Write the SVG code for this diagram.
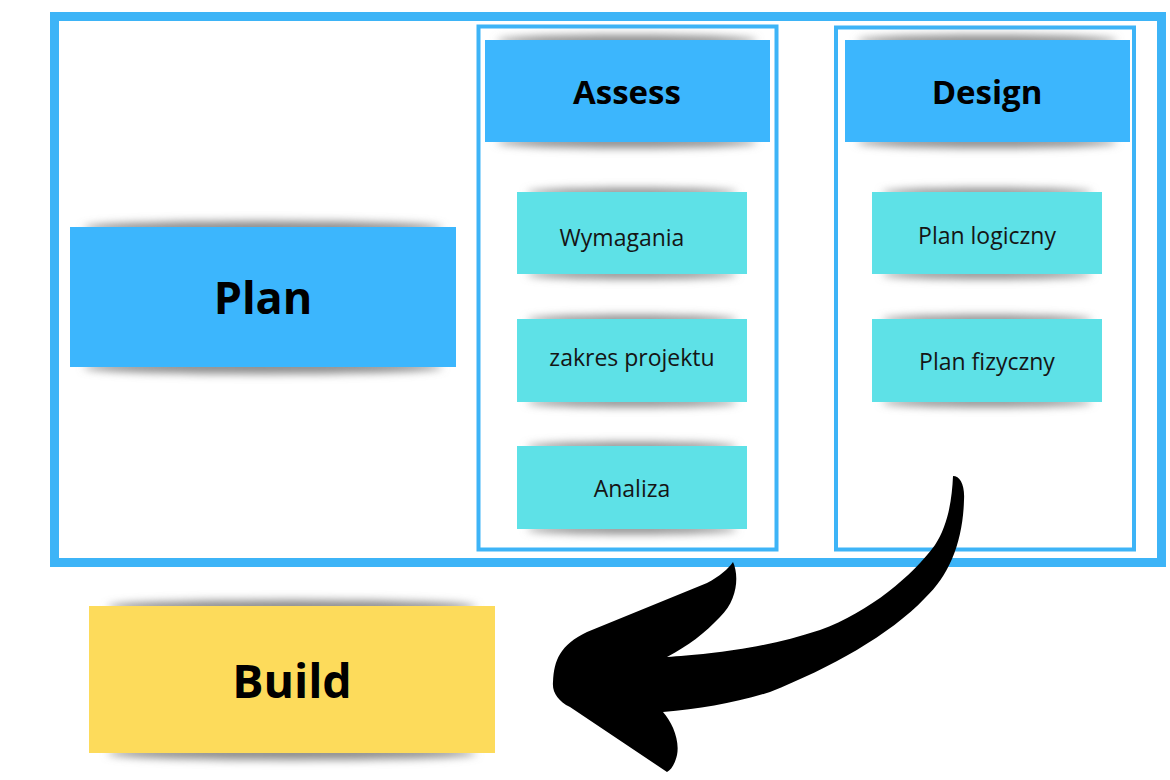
<svg xmlns="http://www.w3.org/2000/svg" width="1170" height="780" viewBox="0 0 1170 780">
<defs>
<filter id="blur" x="-20%" y="-200%" width="140%" height="500%"><feGaussianBlur stdDeviation="4"/></filter>
<style>
.frame{fill:none;stroke:#3db4f7}
.blue{fill:#3cb6fd}
.teal{fill:#5ee1e7}
.yellow{fill:#fddb5b}
.sh{fill:#8a8a8a;filter:url(#blur)}
.big{font-family:"Open Sans","Liberation Sans",sans-serif;font-weight:bold;fill:#000;text-anchor:middle}
.small{font-family:"Open Sans","Liberation Sans",sans-serif;font-size:23px;fill:#151515;text-anchor:middle}
</style>
</defs>
<rect width="1170" height="780" fill="#fff"/>
<rect id="outer" class="frame" x="54.5" y="16.5" width="1107" height="546" stroke-width="9"/>
<g id="assess-col"><rect class="frame" x="478.5" y="26.5" width="298" height="523" stroke-width="4"/></g>
<g id="design-col"><rect class="frame" x="836" y="27.5" width="298" height="522" stroke-width="4"/></g>

<g id="plan">
<ellipse class="sh" cx="263" cy="228" rx="180" ry="7"/><ellipse class="sh" cx="263" cy="367" rx="180" ry="7"/>
<rect class="blue" x="70" y="227" width="386" height="140"/>
<text class="big" x="263" y="314" font-size="45">Plan</text>
</g>
<g id="assess">
<ellipse class="sh" cx="627" cy="41" rx="130" ry="6"/><ellipse class="sh" cx="627" cy="142" rx="130" ry="6"/>
<rect class="blue" x="485" y="40" width="285" height="102"/>
<text class="big" x="627" y="104" font-size="33">Assess</text>
</g>
<g id="design">
<ellipse class="sh" cx="987" cy="41" rx="130" ry="6"/><ellipse class="sh" cx="987" cy="142" rx="130" ry="6"/>
<rect class="blue" x="845" y="40" width="285" height="102"/>
<text class="big" x="987" y="104" font-size="33">Design</text>
</g>
<g id="wymagania">
<ellipse class="sh" cx="632" cy="193" rx="105" ry="5"/><ellipse class="sh" cx="632" cy="274" rx="105" ry="5"/>
<rect class="teal" x="517" y="192" width="230" height="82"/>
<text class="small" x="622" y="246">Wymagania</text>
</g>
<g id="zakres">
<ellipse class="sh" cx="632" cy="320" rx="105" ry="5"/><ellipse class="sh" cx="632" cy="402" rx="105" ry="5"/>
<rect class="teal" x="517" y="319" width="230" height="83"/>
<text class="small" x="632" y="366">zakres projektu</text>
</g>
<g id="analiza">
<ellipse class="sh" cx="632" cy="447" rx="105" ry="5"/><ellipse class="sh" cx="632" cy="529" rx="105" ry="5"/>
<rect class="teal" x="517" y="446" width="230" height="83"/>
<text class="small" x="632" y="497">Analiza</text>
</g>
<g id="plan-logiczny">
<ellipse class="sh" cx="987" cy="193" rx="105" ry="5"/><ellipse class="sh" cx="987" cy="274" rx="105" ry="5"/>
<rect class="teal" x="872" y="192" width="230" height="82"/>
<text class="small" x="987" y="244">Plan logiczny</text>
</g>
<g id="plan-fizyczny">
<ellipse class="sh" cx="987" cy="320" rx="105" ry="5"/><ellipse class="sh" cx="987" cy="402" rx="105" ry="5"/>
<rect class="teal" x="872" y="319" width="230" height="83"/>
<text class="small" x="987" y="370">Plan fizyczny</text>
</g>
<g id="build">
<ellipse class="sh" cx="292" cy="607" rx="185" ry="7"/><ellipse class="sh" cx="292" cy="753" rx="185" ry="7"/>
<rect class="yellow" x="89" y="606" width="406" height="147"/>
<text class="big" x="292" y="698" font-size="46.5">Build</text>
</g>
<g id="connectors">
<path fill="#000" d="M 953,476 C 960,476 965,485 964,500 C 963,540 950,575 925,598 C 890,635 830,668 770,692 C 735,703 700,709 663,712 C 672,722 680,740 677,755 C 675,764 671,770 667,772 L 570,707 C 558,701 552,692 553,682 C 554,660 560,645 587,632 L 707,583 C 720,576 728,569 733,562 C 739,575 738,600 720,617 C 705,633 688,646 667,657 C 700,655 760,650 820,630 C 870,612 913,575 935,545 C 948,525 952,500 953,476 Z"/>
</g>
</svg>
